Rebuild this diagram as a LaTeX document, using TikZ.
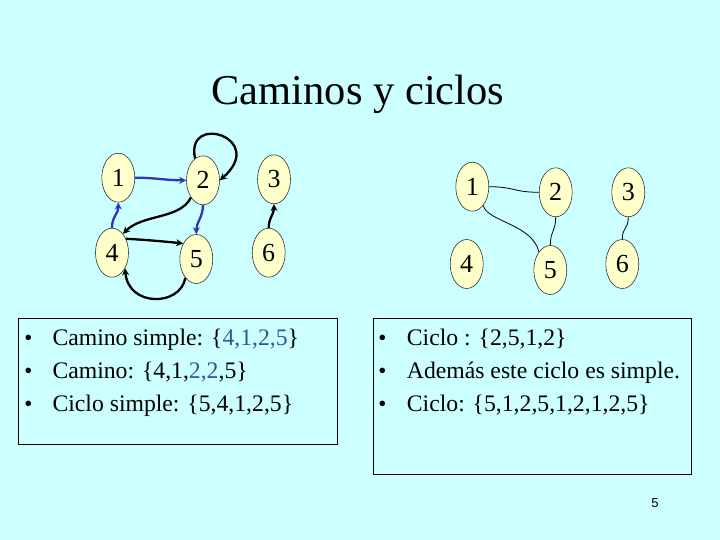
\documentclass[tikz,border=0pt]{standalone}
\usepackage{fontspec}
\setmainfont{Liberation Serif}
\newfontfamily\pagefont{Liberation Sans}
\usetikzlibrary{shapes.geometric,arrows.meta}
\definecolor{bgcyan}{RGB}{204,255,255}
\definecolor{nodefill}{RGB}{255,255,204}
\definecolor{edgeblue}{RGB}{51,51,187}
\definecolor{textblue}{RGB}{51,85,153}
\begin{document}
\begin{tikzpicture}[x=1pt,y=-1pt,
  gnode/.style={ellipse,draw=black!80,line width=0.6pt,fill=nodefill,minimum width=33pt,minimum height=49pt,inner sep=0pt,font=\fontsize{26}{26}\selectfont},
  arr/.style={draw=black,line width=2.3pt,-{Stealth[length=7pt,width=7pt]}},
  barr/.style={arr,draw=edgeblue,-{Stealth[length=7pt,width=7pt,fill=edgeblue]}},
  uedge/.style={draw=black,line width=0.8pt},
  btext/.style={anchor=base west,inner sep=0pt,font=\fontsize{23.7}{28}\selectfont},
  bdot/.style={anchor=base,inner sep=0pt,font=\fontsize{23}{28}\selectfont},
  boxline/.style={draw=black,line width=0.8pt}]
\path[fill=bgcyan] (0,0) rectangle (720,540);
% title
\node[anchor=base,inner sep=0pt,font=\fontsize{42.5}{50}\selectfont] (title) at (358,105) {Caminos y ciclos};
% left graph
\node[gnode] (a1) at (118.3,177.7) {1};
\node[gnode] (a2) at (203,180.3) {2};
\node[gnode] (a3) at (274,179.3) {3};
\node[gnode] (a4) at (112,252.7) {4};
\node[gnode] (a5) at (196.3,259) {5};
\node[gnode] (a6) at (268.7,252.7) {6};
\draw[barr] (a1.east) .. controls +(20,0) and +(-20,0) .. (a2.west);
\draw[arr] (a2.110) .. controls (185,112) and (268,138) .. (a2.east);
\draw[arr] (a2.235) .. controls +(-11,22) and +(20,-20) .. (a4.60);
\draw[barr] (a2.south) .. controls +(0,12) and +(0,-12) .. (a5.north);
\draw[barr] (a4.north) .. controls +(0,-12) and +(0,12) .. (a1.south);
\draw[arr] (a4.45) .. controls +(20,1) and +(-20,-2) .. (a5.130);
\draw[arr] (a5.240) .. controls (180,307) and (128,307) .. (a4.-50);
\draw[arr] (a6.north) .. controls +(0,-10) and +(0,10) .. (a3.south);
% right graph
\node[gnode] (b1) at (472.3,186.7) {1};
\node[gnode] (b2) at (555.7,192.3) {2};
\node[gnode] (b3) at (628.3,192.3) {3};
\node[gnode] (b4) at (466.7,264) {4};
\node[gnode] (b5) at (550.3,270) {5};
\node[gnode] (b6) at (622.3,264) {6};
\draw[uedge] (b1.east) .. controls +(25,0) and +(-25,0) .. (b2.west);
\draw[uedge] (b1.-60) .. controls (488,222) and (532,224) .. (b5.122);
\draw[uedge] (b2.south) .. controls +(0,14) and +(0,-14) .. (b5.north);
\draw[uedge] (b3.south) .. controls +(0,12) and +(0,-12) .. (b6.north);
% left box
\node[boxline,minimum width=319pt,minimum height=126pt,inner sep=0pt,anchor=north west] (lbox) at (18,318) {};
\node[bdot] (lb1) at (28.3,345) {•};
\node[bdot] (lb2) at (28.3,378.3) {•};
\node[bdot] (lb3) at (28.3,411.7) {•};
\node[btext] (lt1) at (52.3,345) {Camino simple: \{\textcolor{textblue}{4,1,2,5}\}};
\node[btext] (lt2) at (52.3,378.3) {Camino: \{4,1,\textcolor{textblue}{2,2},5\}};
\node[btext] (lt3) at (52.3,411.7) {Ciclo simple: \{5,4,1,2,5\}};
% right box
\node[boxline,minimum width=318pt,minimum height=156pt,inner sep=0pt,anchor=north west] (rbox) at (373,318) {};
\node[bdot] (rb1) at (382.3,345) {•};
\node[bdot] (rb2) at (382.3,378.3) {•};
\node[bdot] (rb3) at (382.3,411.7) {•};
\node[btext] (rt1) at (406.7,345) {Ciclo : \{2,5,1,2\}};
\node[btext] (rt2) at (406.7,378.3) {Además este ciclo es simple.};
\node[btext] (rt3) at (406.7,411.7) {Ciclo: \{5,1,2,5,1,2,1,2,5\}};
% page number
\node[inner sep=0pt,font=\pagefont\fontsize{13}{13}\selectfont] (pnum) at (655,503) {5};
\end{tikzpicture}
\end{document}
